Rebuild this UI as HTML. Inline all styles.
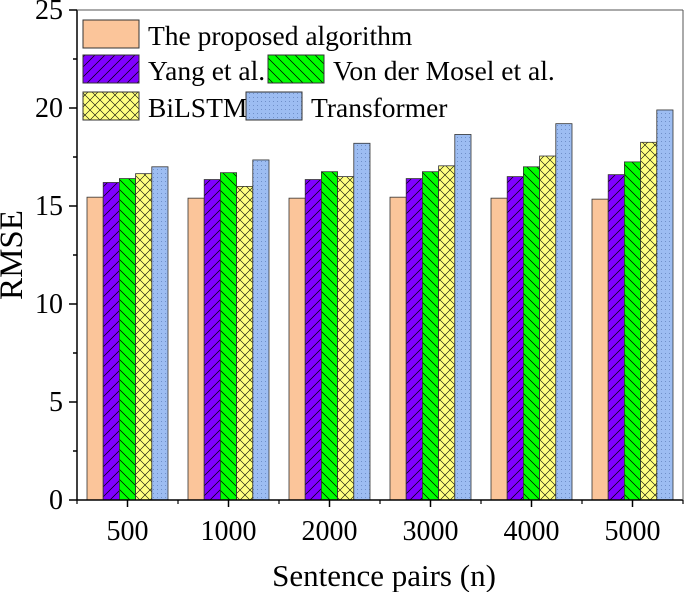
<!DOCTYPE html>
<html><head><meta charset="utf-8"><style>
body{margin:0;background:#fff}
svg{display:block;font-family:"Liberation Serif",serif}
</style></head><body>
<svg width="685" height="592">
<defs>
<pattern id="pPurple" width="10" height="10" patternUnits="userSpaceOnUse"><rect width="10" height="10" fill="#8000FF"/><path d="M0,10 L10,0 M-2,2 L2,-2 M8,12 L12,8" stroke="#000" stroke-width="0.7"/></pattern>
<pattern id="pGreen" width="10" height="10" patternUnits="userSpaceOnUse"><rect width="10" height="10" fill="#00FF00"/><path d="M0,0 L10,10 M-2,8 L2,12 M8,-2 L12,2" stroke="#000" stroke-width="0.7"/></pattern>
<pattern id="pYellow" width="10" height="10" patternUnits="userSpaceOnUse"><rect width="10" height="10" fill="#FFFF80"/><path d="M0,0 L10,10 M0,10 L10,0" stroke="#000" stroke-width="0.6"/></pattern>
<pattern id="pBlue" width="4" height="4" patternUnits="userSpaceOnUse"><rect width="4" height="4" fill="#9DBDF2"/><rect x="1" y="1" width="1" height="1" fill="#6f8fc8"/></pattern>
</defs>
<g id="bars"></g>
<g id="axes"></g>
<g font-size="27.5">
<rect x="83" y="20" width="56" height="28" fill="#FBC59A" stroke="#333" stroke-width="1"/>
<text x="148" y="45">The proposed algorithm</text>
<rect x="83" y="55" width="56" height="28" fill="url(#pPurple)" stroke="#333"/>
<text x="148" y="80">Yang et al.</text>
<rect x="268" y="55" width="56" height="28" fill="url(#pGreen)" stroke="#333"/>
<text x="333" y="80">Von der Mosel et al.</text>
<rect x="83" y="92" width="56" height="28" fill="url(#pYellow)" stroke="#333"/>
<text x="148" y="117">BiLSTM</text>
<rect x="246" y="92" width="56" height="28" fill="url(#pBlue)" stroke="#333"/>
<text x="311" y="117">Transformer</text>
</g>
<text x="22" y="255" font-size="33" text-anchor="middle" transform="rotate(-90 22 255)">RMSE</text>
<text x="384" y="586" font-size="31" text-anchor="middle">Sentence pairs (n)</text>
</svg>
<script>
const categories=["500","1000","2000","3000","4000","5000"];
const proposed=[15.45,15.4,15.4,15.45,15.4,15.35];
const yang=[16.2,16.35,16.35,16.4,16.5,16.6];
const vonDerMosel=[16.4,16.7,16.75,16.75,17.0,17.25];
const bilstm=[16.65,16.0,16.5,17.05,17.55,18.25];
const transformer=[17.0,17.35,18.2,18.65,19.2,19.9];
const yTicks=[0,5,10,15,20,25];
const series=[[proposed,"#FBC59A","proposed"],[yang,"url(#pPurple)","yang"],[vonDerMosel,"url(#pGreen)","vondermosel"],[bilstm,"url(#pYellow)","bilstm"],[transformer,"url(#pBlue)","transformer"]];
const X0=77,X1=683,Y0=500,Ytop=10,ns="http://www.w3.org/2000/svg";
const y=v=>Y0-(v/25)*(Y0-Ytop);
const band=(X1-X0)/categories.length;
const xc=i=>X0+band*(i+0.5);
const bw=16.2;
const bars=document.getElementById("bars"),axes=document.getElementById("axes");
function mk(t,a,p){const e=document.createElementNS(ns,t);for(const k in a)e.setAttribute(k,a[k]);p.appendChild(e);return e;}
categories.forEach((c,i)=>{
 series.forEach((s,j)=>{
  const r=mk("rect",{x:xc(i)+(j-2.5)*bw,y:y(s[0][i]),width:bw,height:Y0-y(s[0][i]),fill:s[1],stroke:"#333","stroke-width":0.8},bars);
  
  
 });
 const t=mk("text",{x:xc(i),y:540,"font-size":28,"text-anchor":"middle"},axes);t.textContent=c;
 
 
 mk("line",{x1:xc(i),x2:xc(i),y1:Y0,y2:Y0+7,stroke:"#000","stroke-width":1.5},axes);
});
for(let i=0;i<=categories.length;i++)mk("line",{x1:X0+band*i,x2:X0+band*i,y1:Y0,y2:Y0+4,stroke:"#000","stroke-width":1.2},axes);
for(let v=0;v<=25;v+=2.5){const major=v%5===0;mk("line",{x1:X0-(major?8:4),x2:X0,y1:y(v),y2:y(v),stroke:"#000","stroke-width":1.5},axes);}
yTicks.forEach(v=>{const t=mk("text",{x:X0-14,y:y(v)+9,"font-size":28,"text-anchor":"end"},axes);t.textContent=v;
 
 });
const yl=mk("line",{x1:X0,x2:X0,y1:Ytop,y2:Y0,stroke:"#000","stroke-width":1.5},axes);


const xl=mk("line",{x1:X0,x2:X1,y1:Y0,y2:Y0,stroke:"#000","stroke-width":1.5},axes);


mk("line",{x1:X0,x2:X1,y1:Ytop,y2:Ytop,stroke:"#555","stroke-width":1},axes);
mk("line",{x1:X1,x2:X1,y1:Ytop,y2:Y0,stroke:"#555","stroke-width":1},axes);
</script>
</body></html>
